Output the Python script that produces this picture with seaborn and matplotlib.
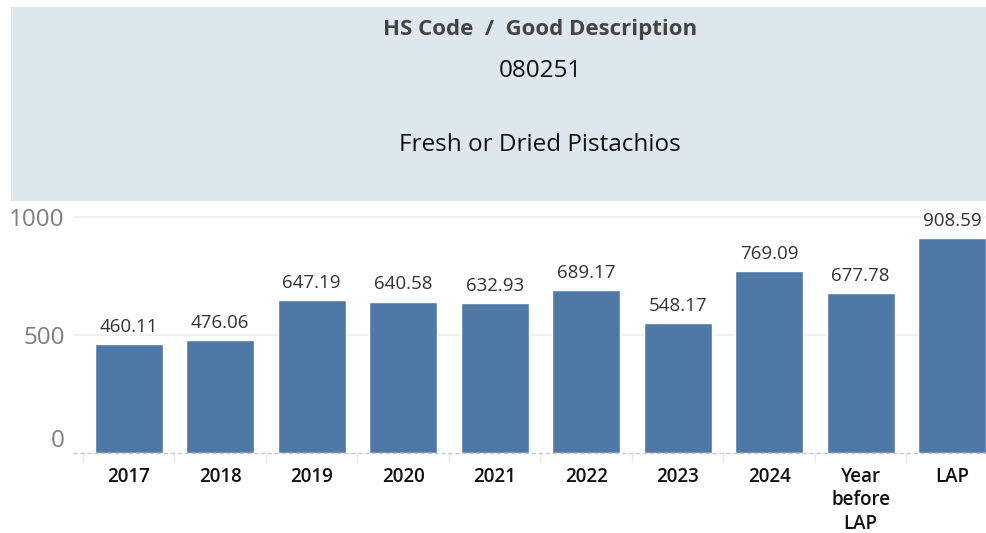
import numpy as np
import pandas as pd
import seaborn as sns
import matplotlib
matplotlib.use("Agg")
from matplotlib import pyplot as plt
from matplotlib.patches import Rectangle

# data
categories = ["2017", "2018", "2019", "2020", "2021", "2022", "2023", "2024",
              "Year\nbefore\nLAP", "LAP"]
values = [460.11, 476.06, 647.19, 640.58, 632.93, 689.17, 548.17, 769.09, 677.78, 908.59]
y_ticks = [0, 500, 1000]

header_title = "HS Code  /  Good Description"
hs_code = "080251"
good_desc = "Fresh or Dried Pistachios"

sns.set_theme(style="white")
plt.rcParams['font.family'] = ['Open Sans', 'DejaVu Sans']

W, H = 987, 533
fig = plt.figure(figsize=(W / 100, H / 100), dpi=100)

# header panel
fig.patches.append(Rectangle((11 / W, 1 - 200 / H), 1 - 11 / W, 193 / H,
                             transform=fig.transFigure, color="#dde8ee", zorder=0))
fig.text(540 / W, 1 - 29 / H, header_title, ha="center", va="center",
         fontsize=16, fontweight="bold", color="#444444")
fig.text(540 / W, 1 - 71 / H, hs_code, ha="center", va="center",
         fontsize=17.5, color="#111111")
fig.text(540 / W, 1 - 145 / H, good_desc, ha="center", va="center",
         fontsize=17.5, color="#111111")

# axes: x 73..987 px, y0 at 452.7 px, top at 205 px
ax = fig.add_axes([73 / W, (H - 452.7) / H, (W - 73) / W, (452.7 - 205) / H])

df = pd.DataFrame({"cat": categories, "val": values})
sns.barplot(data=df, x="cat", y="val", color="#4e79a7", saturation=1,
            width=0.74, ax=ax, zorder=3)

ax.set_xlim(-0.609, 9.38)
ax.set_ylim(0, 1050)
ax.set_yticks(y_ticks)
ax.set_yticklabels([str(t) for t in y_ticks], fontsize=17.5, color="#7f7f7f")
ax.get_yticklabels()[0].set_va("bottom")
ax.tick_params(axis="y", length=0, pad=6)
for t in y_ticks[1:]:
    ax.axhline(t, color="#ececec", lw=1.2, zorder=1)
ax.axhline(0, color="#c8c8c8", lw=1, ls=(0, (3, 2)), zorder=4, clip_on=False)

ax.set_xlabel("")
ax.set_ylabel("")
ax.set_xticks(range(len(categories)))
ax.set_xticklabels(categories, fontsize=13.5, fontweight="semibold", color="#111111",
                   linespacing=1.25, va="top")
ax.tick_params(axis="x", length=0, pad=10)

# little cell separators under the baseline
for i in range(len(categories) + 1):
    ax.plot([i - 0.5, i - 0.5], [0, -40], color="#e6e6e6", lw=1, clip_on=False, zorder=1)

for s in ax.spines.values():
    s.set_visible(False)

for i, v in enumerate(values):
    ax.text(i, v + 35, f"{v:.2f}", ha="center", va="bottom", fontsize=13.5, color="#333333")

fig.savefig("out.png", dpi=100)
